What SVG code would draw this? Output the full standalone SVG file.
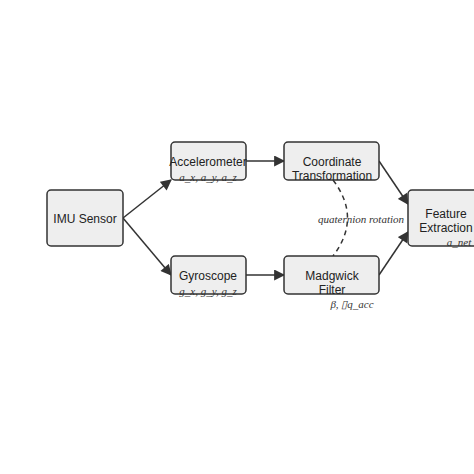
<svg xmlns="http://www.w3.org/2000/svg" width="474" height="474" viewBox="0 0 474 474">
<style>
.n{fill:#eeeeee;stroke:#333333;stroke-width:1.5}
.t{font-family:"Liberation Sans",Arial,sans-serif;font-size:12px;fill:#222;text-anchor:middle}
.m{font-family:"Liberation Serif","Times New Roman",serif;font-style:italic;font-size:11px;fill:#333;text-anchor:middle}
.e{fill:none;stroke:#333333;stroke-width:1.5}
</style>
<defs>
<marker id="a" viewBox="0 0 10 10" refX="9" refY="5" markerWidth="12" markerHeight="11" markerUnits="userSpaceOnUse" orient="auto"><path d="M0,0L10,5L0,10z" fill="#333333"/></marker>
</defs>
<rect width="474" height="474" fill="#ffffff"/>
<g id="connectors">
<line class="e" x1="123" y1="218" x2="171" y2="180" marker-end="url(#a)"/>
<line class="e" x1="123" y1="218" x2="171" y2="275" marker-end="url(#a)"/>
<line class="e" x1="246" y1="161" x2="284" y2="161" marker-end="url(#a)"/>
<line class="e" x1="246" y1="275" x2="284" y2="275" marker-end="url(#a)"/>
<line class="e" x1="379" y1="161" x2="408" y2="204" marker-end="url(#a)"/>
<line class="e" x1="379" y1="275" x2="408" y2="232" marker-end="url(#a)"/>
<path class="e" d="M333,180 Q362,218 333,256" stroke-dasharray="5,4"/>
<text class="m" x="361" y="223">quaternion rotation</text>
</g>
<g id="imu"><rect class="n" x="47" y="190" width="76" height="56" rx="4"/><text class="t" x="85" y="223">IMU Sensor</text></g>
<g id="accel"><rect class="n" x="171" y="142" width="75" height="38" rx="4"/><text class="t" x="208" y="166">Accelerometer</text><text class="m" x="208" y="181">a_x, a_y, a_z</text></g>
<g id="gyro"><rect class="n" x="171" y="256" width="75" height="38" rx="4"/><text class="t" x="208" y="280">Gyroscope</text><text class="m" x="208" y="295">g_x, g_y, g_z</text></g>
<g id="coord"><rect class="n" x="284" y="142" width="95" height="38" rx="4"/><text class="t" x="332" y="166">Coordinate</text><text class="t" x="332" y="180">Transformation</text></g>
<g id="madgwick"><rect class="n" x="284" y="256" width="95" height="38" rx="4"/><text class="t" x="332" y="280">Madgwick</text><text class="t" x="332" y="294">Filter</text><text class="m" x="352" y="308">β, ▯q_acc</text></g>
<g id="feature"><rect class="n" x="408" y="190" width="76" height="56" rx="4"/><text class="t" x="446" y="218">Feature</text><text class="t" x="446" y="232">Extraction</text><text class="m" x="459" y="246">a_net</text></g>
</svg>
